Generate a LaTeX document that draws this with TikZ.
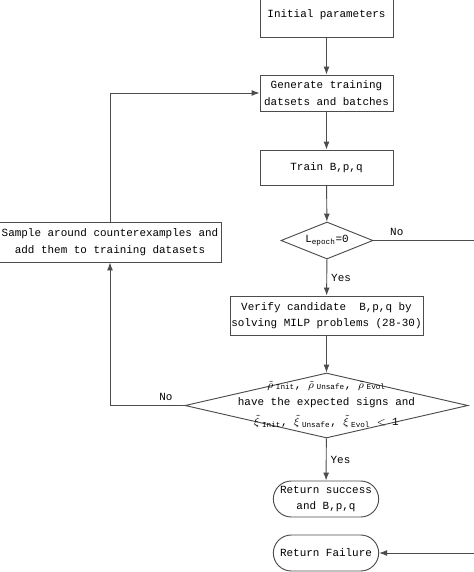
\documentclass[tikz,border=0pt]{standalone}
\usepackage{amsmath}
\usepackage{fontspec}
\setmainfont{Liberation Mono}
\usetikzlibrary{arrows.meta,shapes.geometric,shapes.misc}

\begin{document}
\begin{tikzpicture}[
  x=0.75pt,
  y=-0.75pt,
  font=\fontsize{8.2}{12.5}\selectfont,
  stepbox/.style={
    draw=black!70,
    line width=0.7pt,
    rectangle,
    minimum width=99.75pt,
    minimum height=27pt,
    inner sep=1pt,
    align=center
  },
  check/.style={
    draw=black!70,
    line width=0.7pt,
    diamond,
    inner sep=0pt
  },
  terminal/.style={
    draw=black!70,
    line width=0.7pt,
    rounded rectangle,
    minimum width=81pt,
    minimum height=27pt,
    inner sep=1pt,
    align=center
  },
  flow/.style={draw=black!70,line width=0.7pt,-{Latex[length=6pt,width=4.5pt]}},
  answer/.style={inner sep=3pt}
]
  \useasboundingbox (0,0) rectangle (474,572);

  \node[stepbox,minimum height=33pt] (init) at (326.5,15) {\raisebox{-3pt}{Initial parameters}};
  \node[stepbox] (generate) at (326.5,93) {Generate training\\datsets and batches};
  \node[stepbox,minimum height=26.25pt] (train) at (326.5,167.5) {Train B,p,q};
  \node[check,minimum width=69pt,minimum height=27.75pt,
    label={center:L$_{\text{epoch}}$=0}] (epoch) at (327,240.5) {};
  \node[stepbox,minimum width=110.25pt,minimum height=29.25pt] (verify) at (326.5,315.5)
    {Verify candidate~ B,p,q by\\solving MILP problems (28-30)};
  \node[check,minimum width=212.25pt,minimum height=48.75pt,
    label={[align=center,yshift=1pt,font=\fontsize{8.2}{13}\selectfont]center:
      $\tilde{\rho}_{\;\text{Init}}$, $\tilde{\rho}_{\;\text{Unsafe}}$, $\tilde{\rho}_{\;\text{Evol}}$\\
      have the expected signs and\\[2pt]
      $\tilde{\xi}_{\;\text{Init}}$, $\tilde{\xi}_{\;\text{Unsafe}}$, $\tilde{\xi}_{\;\text{Evol}}$ $<$ 1}]
    (signs) at (326.5,405.5) {};
  \node[terminal] (success) at (326,499) {Return success\\and B,p,q};
  \node[terminal] (failure) at (326,553) {Return Failure};
  \node[stepbox,minimum width=166.5pt,minimum height=30pt] (sample) at (110,242)
    {Sample around counterexamples and\\add them to training datasets};

  \coordinate (offright) at (490,240.5);

  \draw[flow] (init) -- (generate);
  \draw[flow] (generate) -- (train);
  \draw[flow] (train) -- (epoch);
  \draw[flow] (epoch) -- node[answer,right] {Yes} (verify);
  \draw[flow] (verify) -- (signs);
  \draw[flow] (signs) -- node[answer,right] {Yes} (success);
  \draw[flow] (epoch.east) -- node[answer,above,pos=0.2] {No} (offright) |- (failure.east);
  \draw[flow] (signs.west) -- node[answer,above,pos=0.25] {No} (signs.west -| sample.south) -- (sample.south);
  \draw[flow] (sample.north) |- (generate.west);
\end{tikzpicture}
\end{document}
